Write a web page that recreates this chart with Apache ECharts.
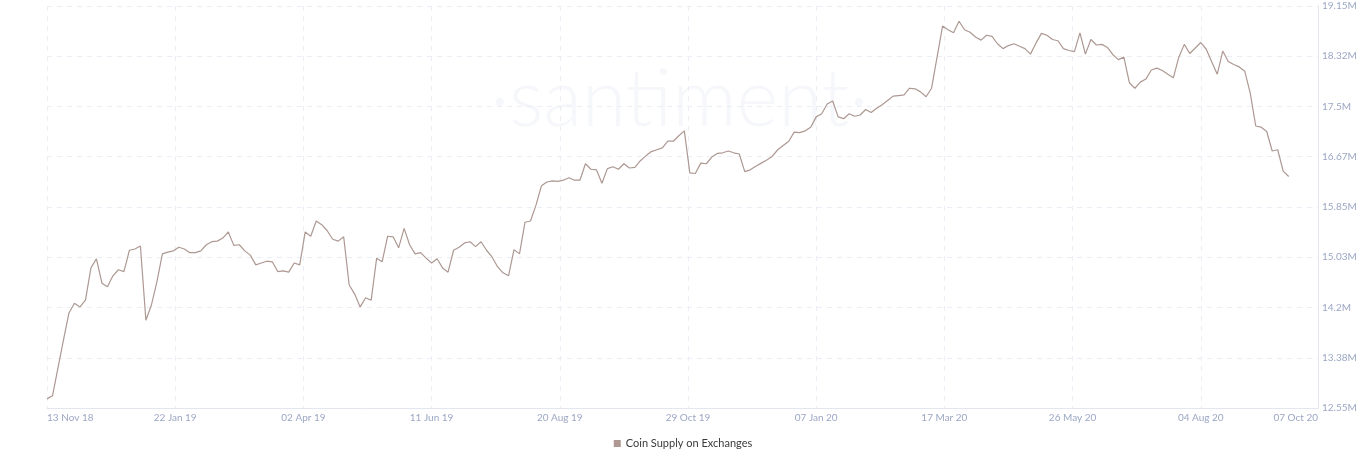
<!DOCTYPE html>
<html>
<head>
<meta charset="utf-8">
<script src="https://cdn.jsdelivr.net/npm/echarts@6/dist/echarts.min.js"></script>
<style>
html,body{margin:0;padding:0;background:#fff;}
#chart{width:1366px;height:462px;}
</style>
</head>
<body>
<div id="chart"></div>
<script>
const seriesName = 'Coin Supply on Exchanges';

const dates = [
'2018-11-13','2018-11-16','2018-11-19','2018-11-22','2018-11-25','2018-11-28',
'2018-12-01','2018-12-04','2018-12-07','2018-12-10','2018-12-13','2018-12-16','2018-12-19','2018-12-22','2018-12-25','2018-12-28','2018-12-31',
'2019-01-03','2019-01-06','2019-01-09','2019-01-12','2019-01-15','2019-01-18','2019-01-21','2019-01-24','2019-01-27','2019-01-30',
'2019-02-02','2019-02-05','2019-02-08','2019-02-11','2019-02-14','2019-02-17','2019-02-20','2019-02-23','2019-02-26',
'2019-03-01','2019-03-04','2019-03-07','2019-03-10','2019-03-13','2019-03-16','2019-03-19','2019-03-22','2019-03-25','2019-03-28','2019-03-31',
'2019-04-03','2019-04-06','2019-04-09','2019-04-12','2019-04-15','2019-04-18','2019-04-21','2019-04-24','2019-04-27','2019-04-30',
'2019-05-03','2019-05-06','2019-05-09','2019-05-12','2019-05-15','2019-05-18','2019-05-21','2019-05-24','2019-05-27','2019-05-30',
'2019-06-02','2019-06-05','2019-06-08','2019-06-11','2019-06-14','2019-06-17','2019-06-20','2019-06-23','2019-06-26','2019-06-29',
'2019-07-02','2019-07-05','2019-07-08','2019-07-11','2019-07-14','2019-07-17','2019-07-20','2019-07-23','2019-07-26','2019-07-29',
'2019-08-01','2019-08-04','2019-08-07','2019-08-10','2019-08-13','2019-08-16','2019-08-19','2019-08-22','2019-08-25','2019-08-28','2019-08-31',
'2019-09-03','2019-09-06','2019-09-09','2019-09-12','2019-09-15','2019-09-18','2019-09-21','2019-09-24','2019-09-27','2019-09-30',
'2019-10-03','2019-10-06','2019-10-09','2019-10-12','2019-10-15','2019-10-18','2019-10-21','2019-10-24','2019-10-27','2019-10-30',
'2019-11-02','2019-11-05','2019-11-08','2019-11-11','2019-11-14','2019-11-17','2019-11-20','2019-11-23','2019-11-26','2019-11-29',
'2019-12-02','2019-12-05','2019-12-08','2019-12-11','2019-12-14','2019-12-17','2019-12-20','2019-12-23','2019-12-26','2019-12-29',
'2020-01-01','2020-01-04','2020-01-07','2020-01-10','2020-01-13','2020-01-16','2020-01-19','2020-01-22','2020-01-25','2020-01-28','2020-01-31',
'2020-02-03','2020-02-06','2020-02-09','2020-02-12','2020-02-15','2020-02-18','2020-02-21','2020-02-24','2020-02-27',
'2020-03-01','2020-03-04','2020-03-07','2020-03-10','2020-03-13','2020-03-16','2020-03-19','2020-03-22','2020-03-25','2020-03-28','2020-03-31',
'2020-04-03','2020-04-06','2020-04-09','2020-04-12','2020-04-15','2020-04-18','2020-04-21','2020-04-24','2020-04-27','2020-04-30',
'2020-05-03','2020-05-06','2020-05-09','2020-05-12','2020-05-15','2020-05-18','2020-05-21','2020-05-24','2020-05-27','2020-05-30',
'2020-06-02','2020-06-05','2020-06-08','2020-06-11','2020-06-14','2020-06-17','2020-06-20','2020-06-23','2020-06-26','2020-06-29',
'2020-07-02','2020-07-05','2020-07-08','2020-07-11','2020-07-14','2020-07-17','2020-07-20','2020-07-23','2020-07-26','2020-07-29',
'2020-08-01','2020-08-04','2020-08-07','2020-08-10','2020-08-13','2020-08-16','2020-08-19','2020-08-22','2020-08-25','2020-08-28','2020-08-31',
'2020-09-03','2020-09-06','2020-09-09','2020-09-12','2020-09-15','2020-09-18','2020-09-21'
];

// Coin supply on exchanges, millions
const supply = [
12.70,12.75,13.21,13.67,14.11,14.27,
14.21,14.32,14.85,15.00,14.60,14.54,14.72,14.82,14.79,15.14,15.16,
15.21,13.99,14.24,14.62,15.08,15.11,15.13,15.19,15.16,15.10,
15.10,15.13,15.23,15.28,15.29,15.34,15.44,15.22,15.23,
15.13,15.06,14.90,14.93,14.96,14.95,14.79,14.80,14.78,14.93,14.90,
15.44,15.37,15.62,15.56,15.46,15.32,15.29,15.36,14.57,14.42,
14.21,14.36,14.32,15.01,14.95,15.37,15.36,15.18,15.50,15.23,
15.08,15.10,15.01,14.93,15.00,14.85,14.78,15.14,15.19,15.26,
15.28,15.20,15.28,15.14,15.03,14.87,14.77,14.72,15.15,15.08,
15.60,15.62,15.88,16.20,16.26,16.28,16.27,16.29,16.33,16.29,16.29,
16.56,16.47,16.46,16.24,16.48,16.51,16.47,16.56,16.49,16.50,
16.61,16.69,16.76,16.79,16.82,16.93,16.93,17.02,17.10,16.41,
16.40,16.57,16.56,16.67,16.73,16.74,16.77,16.74,16.72,16.43,
16.46,16.52,16.57,16.62,16.68,16.79,16.86,16.93,17.08,17.07,
17.10,17.16,17.33,17.38,17.54,17.59,17.33,17.30,17.38,17.34,17.36,
17.45,17.40,17.47,17.53,17.60,17.67,17.68,17.69,17.80,
17.79,17.74,17.66,17.80,18.31,18.82,18.76,18.71,18.90,18.76,18.72,
18.64,18.59,18.67,18.65,18.53,18.45,18.50,18.53,18.49,18.45,
18.36,18.54,18.70,18.67,18.60,18.58,18.45,18.42,18.40,18.71,
18.36,18.60,18.51,18.52,18.47,18.35,18.27,18.31,17.89,17.80,
17.90,17.95,18.10,18.13,18.09,18.03,17.97,18.31,18.52,18.37,
18.46,18.55,18.44,18.23,18.03,18.41,18.24,18.19,18.15,18.08,17.72,
17.18,17.16,17.09,16.77,16.79,16.44,16.35
];

const yMin = 12.55, yMax = 19.15, yStep = 0.825;
const yTickLabels = ['12.55M','13.38M','14.2M','15.03M','15.85M','16.67M','17.5M','18.32M','19.15M'];
const xStart = '2018-11-13', xEnd = '2020-10-07', xStepDays = 70;
const monthNames = ['Jan','Feb','Mar','Apr','May','Jun','Jul','Aug','Sep','Oct','Nov','Dec'];

function ts(s){ const p = s.split('-'); return Date.UTC(+p[0], +p[1]-1, +p[2]); }
function fmtDate(v){
  const d = new Date(v);
  const dd = String(d.getUTCDate()).padStart(2,'0');
  return dd + ' ' + monthNames[d.getUTCMonth()] + ' ' + String(d.getUTCFullYear()).slice(2);
}

const lineColor = '#ad9892';
const axisText = '#9ca7c4';
const gridColor = '#eceef5';

const chart = echarts.init(document.getElementById('chart'), null, {renderer:'canvas'});
chart.setOption({
  animation: false,
  backgroundColor: '#fff',
  grid: { left: 47, right: 48, top: 6, bottom: 54 },
  graphic: [{
    type: 'text',
    left: 490, top: 60, z: 0, silent: true,
    style: { text: '\u00b7santiment\u00b7', font: '300 80px Lato', fill: '#f6f7fb' }
  }],
  legend: {
    bottom: 8, left: 'center',
    icon: 'rect', itemWidth: 7, itemHeight: 7, itemGap: 10,
    textStyle: { color: '#3a3a3a', fontSize: 11, fontFamily: 'Lato' },
    data: [seriesName]
  },
  xAxis: {
    type: 'value',
    min: ts(xStart), max: ts(xEnd), interval: xStepDays*86400000,
    axisLine: { show: true, lineStyle: { color: '#e3e6ef' } },
    axisTick: { show: false },
    splitLine: { show: true, lineStyle: { color: gridColor, type: [5,5] } },
    axisLabel: {
      color: axisText, fontSize: 10, fontFamily: 'Lato', margin: 5,
      alignMinLabel: 'left', alignMaxLabel: 'right',
      formatter: v => fmtDate(v)
    }
  },
  yAxis: {
    type: 'value', position: 'right',
    min: yMin, max: yMax, interval: yStep,
    axisLine: { show: true, lineStyle: { color: '#e3e6ef' } },
    axisTick: { show: false },
    splitLine: { show: true, lineStyle: { color: gridColor, type: [5,5] } },
    axisLabel: {
      color: axisText, fontSize: 10, fontFamily: 'Lato', margin: 4,
      formatter: v => yTickLabels[Math.round((v - yMin)/yStep)]
    }
  },
  series: [{
    name: seriesName, type: 'line', showSymbol: false, symbol: 'none',
    color: lineColor,
    lineStyle: { width: 1.2, color: lineColor },
    data: dates.map((d,i) => [ts(d), supply[i]]),
    z: 3
  }]
});
</script>
</body>
</html>
